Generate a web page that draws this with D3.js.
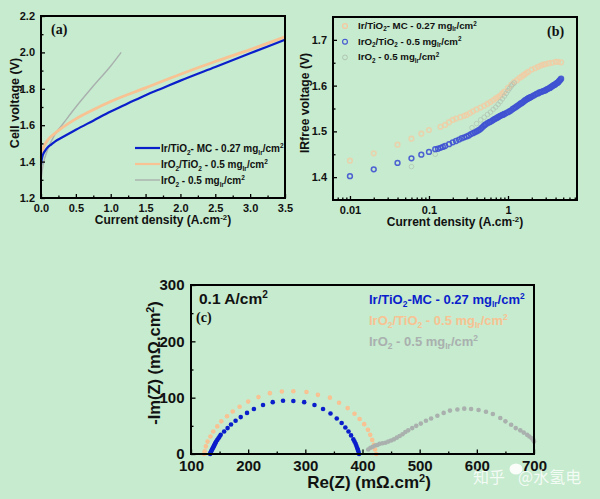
<!DOCTYPE html>
<html><head><meta charset="utf-8">
<script src="https://cdn.jsdelivr.net/npm/d3@7"></script>
<style>
html,body{margin:0;padding:0;background:#c6ebce;overflow:hidden}
svg{display:block}
text{font-family:"Liberation Sans",Arial,sans-serif;font-weight:700;fill:#111}
.tick text{font-family:"Liberation Sans",Arial,sans-serif;font-weight:700}
</style></head><body>
<svg id="c" width="600" height="499"></svg>
<script>
// ---------- panel (a) polarization curves [current density, cell voltage]
const aBlue=[[0,1.38],[0.01,1.41],[0.03,1.44],[0.06,1.46],[0.1,1.48],[0.15,1.495],[0.2,1.51],[0.3,1.532],[0.5,1.575],[0.75,1.625],[1,1.675],[1.25,1.72],[1.5,1.765],[1.75,1.805],[2,1.845],[2.5,1.92],[3,1.995],[3.5,2.07]];
const aOrange=[[0,1.42],[0.02,1.46],[0.05,1.49],[0.1,1.52],[0.2,1.555],[0.3,1.585],[0.5,1.635],[0.75,1.685],[1,1.73],[1.5,1.805],[2,1.88],[2.5,1.95],[3,2.015],[3.5,2.085]];
const aGray=[[0,1.3],[0.03,1.38],[0.1,1.47],[0.2,1.55],[0.3,1.6],[0.5,1.7],[0.75,1.815],[1,1.925],[1.15,2.0]];
// ---------- panel (b) Tafel points [current density, IR-free voltage]
const bOrange=[[0.01,1.436],[0.02,1.452],[0.04,1.471],[0.06,1.484],[0.08,1.495],[0.1,1.503],[0.14,1.51],[0.16,1.514],[0.18,1.52],[0.2,1.525],[0.22,1.528],[0.25,1.531],[0.28,1.534],[0.3,1.536],[0.33,1.54],[0.36,1.544],[0.4,1.548],[0.45,1.552],[0.5,1.556],[0.55,1.56],[0.6,1.564],[0.65,1.568],[0.7,1.572],[0.75,1.575],[0.8,1.578],[0.85,1.583],[0.9,1.587],[1,1.595],[1.1,1.602],[1.2,1.608],[1.3,1.612],[1.4,1.617],[1.5,1.62],[1.6,1.624],[1.7,1.627],[1.8,1.63],[2,1.635],[2.2,1.638],[2.4,1.641],[2.6,1.644],[2.8,1.646],[3,1.647],[3.3,1.649],[3.6,1.65],[4,1.652],[4.3,1.652],[4.7,1.651]];
const bBlue=[[0.01,1.402],[0.02,1.417],[0.04,1.431],[0.06,1.441],[0.08,1.449],[0.1,1.455],[0.12,1.461],[0.13,1.462],[0.14,1.464],[0.15,1.466],[0.16,1.468],[0.18,1.472],[0.2,1.476],[0.22,1.479],[0.24,1.482],[0.26,1.485],[0.28,1.487],[0.3,1.489],[0.32,1.491],[0.34,1.494],[0.36,1.496],[0.38,1.498],[0.4,1.5],[0.42,1.502],[0.44,1.504],[0.46,1.507],[0.48,1.51],[0.5,1.513],[0.52,1.515],[0.55,1.518],[0.58,1.52],[0.6,1.521],[0.63,1.523],[0.65,1.525],[0.68,1.527],[0.7,1.528],[0.73,1.53],[0.75,1.531],[0.78,1.533],[0.8,1.534],[0.83,1.535],[0.85,1.536],[0.88,1.537],[0.9,1.538],[0.95,1.54],[1,1.542],[1.05,1.544],[1.1,1.546],[1.15,1.549],[1.2,1.551],[1.25,1.553],[1.3,1.555],[1.35,1.557],[1.4,1.559],[1.45,1.561],[1.5,1.562],[1.55,1.564],[1.6,1.566],[1.65,1.568],[1.7,1.569],[1.75,1.571],[1.8,1.572],[1.85,1.573],[1.9,1.574],[1.95,1.575],[2,1.576],[2.1,1.578],[2.2,1.58],[2.3,1.582],[2.4,1.583],[2.5,1.585],[2.6,1.586],[2.7,1.587],[2.8,1.588],[2.9,1.589],[3,1.59],[3.1,1.592],[3.2,1.593],[3.3,1.594],[3.4,1.595],[3.5,1.597],[3.6,1.598],[3.7,1.6],[3.8,1.601],[3.9,1.602],[4,1.603],[4.1,1.605],[4.2,1.606],[4.3,1.607],[4.4,1.609],[4.5,1.611],[4.6,1.613],[4.7,1.615]];
const bGray=[[0.06,1.423],[0.12,1.45],[0.35,1.508],[0.4,1.517],[0.45,1.525],[0.5,1.531],[0.55,1.537],[0.6,1.542],[0.65,1.548],[0.7,1.553],[0.75,1.559],[0.8,1.565],[0.85,1.571],[0.9,1.577],[0.95,1.583],[1,1.589],[1.05,1.594],[1.1,1.599],[1.15,1.603],[1.2,1.606]];
// ---------- panel (c) Nyquist points [Re(Z), -Im(Z)]
const cOrange=[[123,0],[124,5],[126,13.5],[129,22],[134,31],[139,40],[146,49],[153,58],[163,67],[173,75.5],[185,84],[200,93],[218,101],[238,108],[259,111],[279,111.5],[302,110],[322,105],[343,100],[359,91],[374,81.5],[386,71.5],[395,62],[403,53],[409.5,43],[413.5,34],[417,25],[420,16.5],[422,8],[424,0]];
const cBlue=[[133.5,0],[134,2],[135,4],[136,6],[137,8],[138,10],[139,12],[140,14],[141,16],[142,18],[143,20],[144,22],[146,25],[148,28],[150,31],[152,34],[158,40],[164,46],[170,52.5],[178,59],[187,65.5],[198,73],[210,80],[226,87],[243,92],[261,94.5],[279,94],[298,92],[316,87],[331,80],[344,72],[355,63],[363.5,55],[370,47],[375.5,40],[380,33],[384,26],[386,22],[388,18],[389.5,14],[391,10],[392,7],[393,4],[394,0]];
const cGray=[[410,8],[414,11],[418,13],[422,15],[426,16],[430,18],[435,19],[440,20],[445,22],[450,24],[455,26],[460,29],[465,32],[470,35],[475,39],[480,42],[487,46],[494,50],[502,54],[511,59],[520,63],[531,68],[542,73],[553,77],[566,79],[578,80.5],[590,80],[603,78],[616,75],[628,71],[641,64],[650,58],[660,52],[668,46],[676,42],[682,38],[688,34],[692,31],[696,28],[699,25],[700,22]];
// ---------- ticks
const aXTicks=[0,0.5,1,1.5,2,2.5,3,3.5], aXMinor=[0.25,0.75,1.25,1.75,2.25,2.75,3.25];
const aYTicks=[1.2,1.4,1.6,1.8,2.0,2.2], aYMinor=[1.3,1.5,1.7,1.9,2.1];
const bXTicks=[0.01,0.1,1], bXMinor=[0.007,0.008,0.009,0.02,0.03,0.04,0.05,0.06,0.07,0.08,0.09,0.2,0.3,0.4,0.5,0.6,0.7,0.8,0.9,2,3,4,5,6,7];
const bYTicks=[1.4,1.5,1.6,1.7], bYMinor=[1.45,1.55,1.65];
const cXTicks=[100,200,300,400,500,600,700], cXMinor=[150,250,350,450,550,650];
const cYTicks=[0,100,200,300], cYMinor=[50,150,250];
// ---------- colours and legend names
const BLUE="#0a1ecb", ORANGE="#f8c292", GRAY="#a9b0ae";
const legendA=[["Ir/TiO",["sub","2"],"- MC - 0.27 mg",["sub","Ir"],"/cm",["sup","2"]],["IrO",["sub","2"],"/TiO",["sub","2"]," - 0.5 mg",["sub","Ir"],"/cm",["sup","2"]],["IrO",["sub","2"]," - 0.5 mg",["sub","Ir"],"/cm",["sup","2"]]];
const legendC=[["Ir/TiO",["sub","2"],"-MC - 0.27 mg",["sub","Ir"],"/cm",["sup","2"]],legendA[1],legendA[2]];

const svg=d3.select("#c");
function rich(sel,parts,size){
  let pend=0;
  parts.forEach(p=>{
    const t=sel.append("tspan");
    if(typeof p==="string"){t.text(p).attr("dy",pend);pend=0;}
    else{const d=p[0]==="sub"?size*0.25:-size*0.36;t.text(p[1]).attr("font-size",size*0.65).attr("dy",pend+d);pend=-d;}
  });
  return sel;
}
function label(x,y,parts,size,opt={}){
  const t=svg.append("text").attr("font-size",size).attr("text-anchor",opt.anchor||"start");
  if(opt.rot) t.attr("transform",`translate(${x},${y}) rotate(-90)`); else t.attr("x",x).attr("y",y);
  if(opt.fill) t.style("fill",opt.fill);
  if(opt.serif) t.style("font-family","'Liberation Serif',serif");
  return rich(t,parts,size);
}
function panel(box,xs,ys,xT,xM,yT,yM,xf,yf,fs,maj,min){
  const [l,t,r,b]=box;
  const g=svg.append("g");
  const ax=(ax0,tr,vals,len,fmt)=>{
    const a=ax0.tickValues(vals).tickSizeInner(-len).tickSizeOuter(0);
    a.tickPadding(maj+2);
    if(fmt)a.tickFormat(fmt);else a.tickFormat("");
    const s=g.append("g").attr("transform",tr).call(a);
    s.select(".domain").remove();
    s.selectAll("line").attr("stroke","#000").attr("stroke-width",1.3);
    s.selectAll("text").attr("font-size",fs).style("fill","#111");
    return s;
  };
  ax(d3.axisBottom(xs),`translate(0,${b})`,xT,maj,xf);
  ax(d3.axisBottom(xs),`translate(0,${b})`,xM,min,null);
  ax(d3.axisLeft(ys),`translate(${l},0)`,yT,maj,yf);
  ax(d3.axisLeft(ys),`translate(${l},0)`,yM,min,null);
  g.append("rect").attr("x",l).attr("y",t).attr("width",r-l).attr("height",b-t).attr("fill","none").attr("stroke","#000").attr("stroke-width",2);
}
// Panel a
const ax=d3.scaleLinear([0,3.5],[41,285]), ay=d3.scaleLinear([1.2,2.2],[198,16]);
const ln=d3.line().x(d=>ax(d[0])).y(d=>ay(d[1])).curve(d3.curveMonotoneX);
[[aGray,GRAY,1.4],[aOrange,ORANGE,2.8],[aBlue,BLUE,2.2]].forEach(([d,c,w])=>svg.append("path").attr("d",ln(d)).attr("fill","none").attr("stroke",c).attr("stroke-width",w));
panel([41,16,285,198],ax,ay,aXTicks,aXMinor,aYTicks,aYMinor,d3.format(".1f"),d3.format(".1f"),11,4,2.5);
[BLUE,ORANGE,GRAY].forEach((c,i)=>svg.append("line").attr("x1",135).attr("x2",160).attr("y1",148+i*16).attr("y2",148+i*16).attr("stroke",c).attr("stroke-width",i==2?1.4:2.2));
legendA.forEach((p,i)=>label(161,152+i*16,p,10));
label(163,224,["Current density (A.cm",["sup","-2"],")"],12,{anchor:"middle"});
label(19,103,["Cell voltage (V)"],12.5,{anchor:"middle",rot:true});
label(51,34,["(a)"],14,{serif:true});
// Panel b
const bx=d3.scaleLog([0.0061,7.47],[333,577]), by=d3.scaleLinear([1.35,1.75],[200,17]);
const pts=(d,xs,ys,c,w,r,op)=>svg.append("g").selectAll("circle").data(d).join("circle").attr("cx",p=>xs(p[0])).attr("cy",p=>ys(p[1])).attr("r",r).attr("fill","none").attr("stroke",c).attr("stroke-width",w).attr("opacity",op);
pts(bOrange,bx,by,"#f6c9a0",1.6,2.3,0.7);
pts(bGray,bx,by,"#aebfae",0.8,2.3,0.8);
pts(bBlue,bx,by,"#3f52d2",1.5,2.4,0.9);
panel([333,17,577,200],bx,by,bXTicks,bXMinor,bYTicks,bYMinor,d=>String(d),d3.format(".1f"),11,4,2.5);
[["#f6c9a0",1.3],["#3f52d2",1.1],["#aebfae",0.9]].forEach(([c,w],i)=>svg.append("circle").attr("cx",345).attr("cy",26+i*15.7).attr("r",2.4).attr("fill","none").attr("stroke",c).attr("stroke-width",w));
legendA.forEach((p,i)=>label(358,29+i*15.7,p,9.7));
label(455,226,["Current density (A.cm",["sup","-2"],")"],12,{anchor:"middle"});
label(309,103,["IRfree voltage (V)"],12.2,{anchor:"middle",rot:true});
label(547,36,["(b)"],14,{serif:true});
// Panel c
const cx=d3.scaleLinear([100,700],[191,534]), cy=d3.scaleLinear([0,300],[454,285]);
const dots=(d,c)=>svg.append("g").selectAll("circle").data(d).join("circle").attr("cx",p=>cx(p[0])).attr("cy",p=>cy(p[1])).attr("r",2.3).attr("fill",c);
dots(cOrange,ORANGE);dots(cGray,GRAY);dots(cBlue,BLUE);
panel([191,285,534,454],cx,cy,cXTicks,cXMinor,cYTicks,cYMinor,d3.format("d"),d3.format("d"),15,4.5,2.5);
label(199,304,["0.1 A/cm",["sup","2"]],15.5);
[BLUE,ORANGE,GRAY].forEach((c,i)=>label(369,303.5+i*21,legendC[i],13,{fill:c}));
label(369,488,["Re(Z) (mΩ.cm",["sup","2"],")"],17,{anchor:"middle"});
label(160,363,["-Im(Z) (mΩ.cm",["sup","2"],")"],16.5,{anchor:"middle",rot:true});
label(196,322,["(c)"],14,{serif:true});
// Watermark
const wm=[["知乎",473,16],["@水氢电",518,16]];
svg.append("ellipse").attr("cx",516).attr("cy",469).attr("rx",6.5).attr("ry",5.5).attr("fill","#fff").attr("opacity",0.9);
wm.forEach(([s,x,f])=>svg.append("text").attr("x",x).attr("y",483).attr("font-size",f).style("font-family","'Noto Sans CJK SC'").style("font-weight",400).style("fill","#fff").attr("opacity",0.8).text(s));
</script>
</body></html>
